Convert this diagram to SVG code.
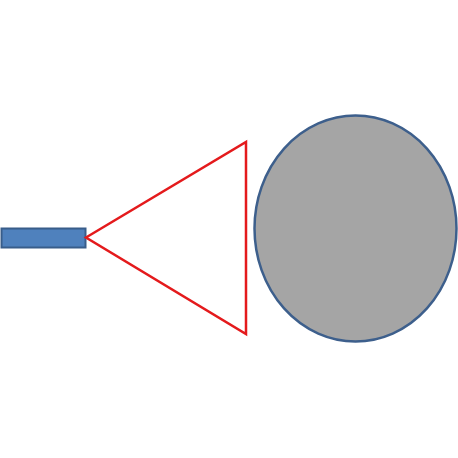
<svg xmlns="http://www.w3.org/2000/svg" width="458" height="458" viewBox="0 0 458 458">
<style>
.bar{fill:#4f81bd;stroke:#385d8a;stroke-width:2}
.cone{fill:none;stroke:#e41a1c;stroke-width:2.5;stroke-linejoin:miter}
.ball{fill:#a5a5a5;stroke:#3d5f8c;stroke-width:2.5}
</style>
<rect width="458" height="458" fill="#ffffff"/>
<g id="bar"><rect class="bar" x="1.5" y="228.5" width="84" height="19"/></g>
<g id="cone"><polygon class="cone" points="86,237.5 246,142 246,334"/></g>
<g id="ball"><ellipse class="ball" cx="355.5" cy="228.5" rx="101" ry="113"/></g>
<g id="connectors"></g>
</svg>
